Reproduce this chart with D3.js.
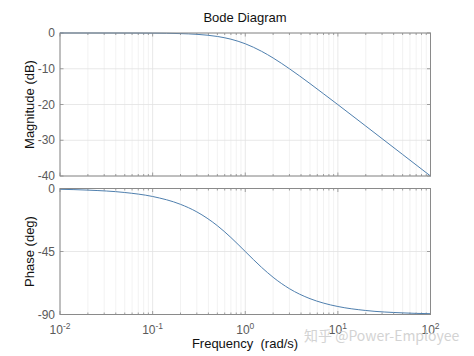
<!DOCTYPE html>
<html><head><meta charset="utf-8">
<script src="https://cdn.jsdelivr.net/npm/d3@7"></script>
<style>body{margin:0;background:#fff}svg{display:block}</style>
</head><body>
<script>
const freq = [0.01, 0.02, 0.05, 0.1, 0.2, 0.3, 0.5, 0.7, 1, 1.5, 2, 3, 5, 7, 10, 20, 50, 100];
const magnitude = [0, 0, -0.01, -0.04, -0.17, -0.37, -0.97, -1.73, -3.01, -5.12, -6.99, -10.0, -14.15, -17.0, -20.04, -26.03, -33.98, -40.0];
const phase = [-0.57, -1.15, -2.86, -5.71, -11.31, -16.70, -26.57, -34.99, -45, -56.31, -63.43, -71.57, -78.69, -81.87, -84.29, -87.14, -88.85, -89.43];
const magTicks = [0, -10, -20, -30, -40];
const phaseTicks = [0, -45, -90];
const decadeTicks = [0.01, 0.1, 1, 10, 100];
const decadeExp = ["-2", "-1", "0", "1", "2"];

const W = 474, H = 356;
const svg = d3.select("body").append("svg").attr("width", W).attr("height", H);
const L = 60, R = 430.5;
const x = d3.scaleLog().domain([0.01, 100]).range([L, R]);
const yM = d3.scaleLinear().domain([-40, 0]).range([176, 33]);
const yP = d3.scaleLinear().domain([-90, 0]).range([314.5, 188.5]);

const minor = [];
for (let e = -2; e < 2; e++) for (let k = 2; k <= 9; k++) minor.push(k * Math.pow(10, e));

const axCol = "#8a8a8a", gridCol = "#e2e2e2", minorCol = "#ececec", lineCol = "#4f7fae";
const font = "'Liberation Sans', Arial, sans-serif";

function panel(y, yTicks, xs, ys) {
  const [y0, y1] = y.range();
  const g = svg.append("g");
  g.selectAll(".mg").data(minor).join("line")
    .attr("x1", d => x(d)).attr("x2", d => x(d)).attr("y1", y1).attr("y2", y0)
    .attr("stroke", minorCol).attr("stroke-width", 0.7);
  g.selectAll(".Mg").data(decadeTicks).join("line")
    .attr("x1", d => x(d)).attr("x2", d => x(d)).attr("y1", y1).attr("y2", y0)
    .attr("stroke", gridCol).attr("stroke-width", 0.8);
  g.selectAll(".hg").data(yTicks).join("line")
    .attr("x1", L).attr("x2", R).attr("y1", d => y(d)).attr("y2", d => y(d))
    .attr("stroke", gridCol).attr("stroke-width", 0.8);
  const tk = (vals, len) => {
    vals.forEach(v => {
      const xx = x(v);
      g.append("line").attr("x1", xx).attr("x2", xx).attr("y1", y0).attr("y2", y0 - len).attr("stroke", axCol).attr("stroke-width", 0.8);
      g.append("line").attr("x1", xx).attr("x2", xx).attr("y1", y1).attr("y2", y1 + len).attr("stroke", axCol).attr("stroke-width", 0.8);
    });
  };
  tk(minor, 2); tk(decadeTicks, 3.5);
  yTicks.forEach(v => {
    g.append("line").attr("x1", L).attr("x2", L + 3.5).attr("y1", y(v)).attr("y2", y(v)).attr("stroke", axCol).attr("stroke-width", 0.8);
    g.append("line").attr("x1", R).attr("x2", R - 3.5).attr("y1", y(v)).attr("y2", y(v)).attr("stroke", axCol).attr("stroke-width", 0.8);
  });
  const line = d3.line().x(d => x(d[0])).y(d => y(d[1])).curve(d3.curveMonotoneX);
  g.append("path").datum(xs.map((f, i) => [f, ys[i]])).attr("d", line)
    .attr("fill", "none").attr("stroke", lineCol).attr("stroke-width", 1);
  g.append("rect").attr("x", L).attr("y", y1).attr("width", R - L).attr("height", y0 - y1)
    .attr("fill", "none").attr("stroke", axCol).attr("stroke-width", 1);
  g.selectAll(".yl").data(yTicks).join("text")
    .attr("x", L - 5).attr("y", d => y(d)).attr("dy", "0.35em")
    .attr("text-anchor", "end").attr("font-family", font).attr("font-size", 12)
    .attr("fill", "#5a5a5a").text(d => d);
}

panel(yM, magTicks, freq, magnitude);
panel(yP, phaseTicks, freq, phase);

decadeTicks.forEach((v, i) => {
  const t = svg.append("text").attr("x", x(v)).attr("y", 334)
    .attr("text-anchor", "middle").attr("font-family", font).attr("font-size", 12).attr("fill", "#5a5a5a");
  t.append("tspan").text("10");
  t.append("tspan").attr("dy", -5).attr("font-size", 8.5).text(decadeExp[i]);
});

svg.append("text").attr("x", 245).attr("y", 22).attr("text-anchor", "middle")
  .attr("font-family", font).attr("font-size", 13).attr("fill", "#111").text("Bode Diagram");
svg.append("text").attr("x", 245).attr("y", 348).attr("text-anchor", "middle")
  .attr("font-family", font).attr("font-size", 13).attr("fill", "#111").attr("xml:space", "preserve").text("Frequency  (rad/s)");
svg.append("text").attr("transform", "translate(34,104.5) rotate(-90)").attr("text-anchor", "middle")
  .attr("font-family", font).attr("font-size", 13).attr("fill", "#111").text("Magnitude (dB)");
svg.append("text").attr("transform", "translate(34,251.5) rotate(-90)").attr("text-anchor", "middle")
  .attr("font-family", font).attr("font-size", 13).attr("fill", "#111").text("Phase (deg)");

svg.append("text").attr("x", 304).attr("y", 341)
  .attr("font-family", "'Noto Sans CJK SC', 'Liberation Sans', sans-serif").attr("font-size", 14)
  .attr("fill", "#cfcfcf").attr("opacity", 0.9).text("知乎 @Power-Employee");
</script>
</body></html>
